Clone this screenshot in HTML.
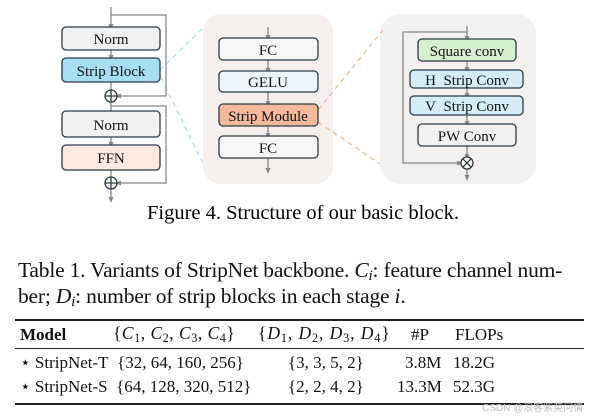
<!DOCTYPE html>
<html><head><meta charset="utf-8"><style>
body{margin:0;width:602px;height:418px;background:#fff;position:relative;overflow:hidden;font-family:"Liberation Serif",serif;color:#111}
.t{position:absolute;white-space:nowrap;line-height:1}
i{font-style:italic}
sub{font-size:70%;vertical-align:-3px;line-height:0}
</style></head><body>
<svg width="602" height="240" style="position:absolute;left:0;top:0" font-family="Liberation Serif, serif" font-size="15">
<defs><marker id="a" markerWidth="6" markerHeight="6" refX="3" refY="3" orient="auto" markerUnits="userSpaceOnUse"><path d="M0,0.5 L6,3 L0,5.5z" fill="#888"/></marker></defs>
<rect x="203" y="14" width="130" height="170" rx="18" fill="#f5efed"/>
<rect x="380" y="14" width="156" height="170" rx="20" fill="#f2f1f0"/>
<g stroke="#a9dcf0" stroke-width="1.3" stroke-dasharray="5,4" fill="none">
<line x1="160" y1="70" x2="203" y2="28"/><line x1="161" y1="78" x2="203" y2="163"/></g>
<g stroke="#f3b99a" stroke-width="1.3" stroke-dasharray="5,4" fill="none">
<line x1="318" y1="110" x2="383" y2="30"/><line x1="318" y1="122" x2="380" y2="164"/></g>
<g stroke="#888" stroke-width="1.3" fill="none">
<line x1="111" y1="7" x2="111" y2="27" marker-end="url(#a)"/>
<polyline points="111,15 166,15 166,96 118,96" marker-end="url(#a)"/>
<line x1="111" y1="50" x2="111" y2="58" marker-end="url(#a)"/>
<line x1="111" y1="82" x2="111" y2="90"/>
<line x1="111" y1="102" x2="111" y2="111"/>
<polyline points="111,106 166,106 166,183 118,183" marker-end="url(#a)"/>
<line x1="111" y1="137" x2="111" y2="145" marker-end="url(#a)"/>
<line x1="111" y1="170" x2="111" y2="177"/>
<line x1="111" y1="189" x2="111" y2="200" marker-end="url(#a)"/>
<line x1="268" y1="27" x2="268" y2="38" marker-end="url(#a)"/>
<line x1="268" y1="60" x2="268" y2="71" marker-end="url(#a)"/>
<line x1="268" y1="92" x2="268" y2="104" marker-end="url(#a)"/>
<line x1="268" y1="126" x2="268" y2="136" marker-end="url(#a)"/>
<line x1="268" y1="158" x2="268" y2="171" marker-end="url(#a)"/>
<line x1="467" y1="26" x2="467" y2="39" marker-end="url(#a)"/>
<polyline points="467,32 403,32 403,163 460,163" marker-end="url(#a)"/>
<line x1="467" y1="61" x2="467" y2="70" marker-end="url(#a)"/>
<line x1="467" y1="88" x2="467" y2="96" marker-end="url(#a)"/>
<line x1="467" y1="115" x2="467" y2="124" marker-end="url(#a)"/>
<line x1="467" y1="146" x2="467" y2="157" marker-end="url(#a)"/>
<line x1="467" y1="169" x2="467" y2="178" marker-end="url(#a)"/>
</g>
<g stroke="#2b3a44" stroke-width="1.3">
<rect x="62" y="27" width="98" height="23" rx="4" fill="#f1f1f1"/>
<rect x="62" y="58" width="98" height="24" rx="4" fill="#a8def3"/>
<rect x="62" y="111" width="98" height="26" rx="4" fill="#f1f1f1"/>
<rect x="62" y="145" width="98" height="25" rx="4" fill="#fbe9e0"/>
<rect x="219" y="38" width="99" height="22" rx="4" fill="#f7f7f7"/>
<rect x="219" y="71" width="99" height="21" rx="4" fill="#edf4fb"/>
<rect x="219" y="104" width="99" height="22" rx="4" fill="#f2b99a"/>
<rect x="219" y="136" width="99" height="22" rx="4" fill="#f7f7f7"/>
<rect x="418" y="39" width="98" height="22" rx="4" fill="#d6efcf"/>
<rect x="410" y="70" width="113" height="18" rx="4" fill="#d4edf6"/>
<rect x="410" y="96" width="113" height="19" rx="4" fill="#d4edf6"/>
<rect x="418" y="124" width="98" height="22" rx="4" fill="#f1f1f1"/>
<circle cx="111" cy="96" r="6" fill="#fff"/><path d="M105,96h12M111,90v12" fill="none"/>
<circle cx="111" cy="183" r="6" fill="#fff"/><path d="M105,183h12M111,177v12" fill="none"/>
<circle cx="467" cy="163" r="6" fill="#fff"/><path d="M462.8,158.8l8.4,8.4M471.2,158.8l-8.4,8.4" fill="none"/>
</g>
<g text-anchor="middle" fill="#111">
<text x="111" y="44">Norm</text><text x="111" y="76">Strip Block</text>
<text x="111" y="130">Norm</text><text x="111" y="163">FFN</text>
<text x="268" y="55">FC</text><text x="268" y="87">GELU</text>
<text x="268" y="121">Strip Module</text><text x="268" y="153">FC</text>
<text x="467" y="56">Square conv</text><text x="467" y="85">H&#160; Strip Conv</text>
<text x="467" y="111">V&#160; Strip Conv</text><text x="467" y="141">PW Conv</text>
</g>
<text x="303" y="219" text-anchor="middle" font-size="20.5">Figure 4. Structure of our basic block.</text>
</svg>
<div class="t" style="left:18px;top:260px;font-size:21.5px;letter-spacing:-0.2px">Table 1. Variants of StripNet backbone. <i>C<sub>i</sub></i>: feature channel num-</div>
<div class="t" style="left:18px;top:286px;font-size:21.5px;letter-spacing:-0.2px">ber; <i>D<sub>i</sub></i>: number of strip blocks in each stage <i>i</i>.</div>
<div style="position:absolute;left:15px;top:319px;width:569px;height:2px;background:#222"></div>
<div style="position:absolute;left:15px;top:348px;width:569px;height:1px;background:#222"></div>
<div style="position:absolute;left:15px;top:403px;width:569px;height:1.5px;background:#222"></div>
<div class="t" style="left:20px;top:326px;font-size:17px;font-weight:bold">Model</div>
<div class="t" style="left:113px;top:325px;font-size:17.5px;letter-spacing:0.5px">{<i>C</i><sub>1</sub>, <i>C</i><sub>2</sub>, <i>C</i><sub>3</sub>, <i>C</i><sub>4</sub>}</div>
<div class="t" style="left:258px;top:325px;font-size:17.5px;letter-spacing:0.9px">{<i>D</i><sub>1</sub>, <i>D</i><sub>2</sub>, <i>D</i><sub>3</sub>, <i>D</i><sub>4</sub>}</div>
<div class="t" style="left:411px;top:326px;font-size:17px">#P</div>
<div class="t" style="left:455px;top:326px;font-size:17px">FLOPs</div>
<div class="t" style="left:20px;top:354px;font-size:17px">⋆ StripNet-T&#160; {32, 64, 160, 256}</div>
<div class="t" style="left:288px;top:354px;font-size:17px">{3, 3, 5, 2}</div>
<div class="t" style="left:405px;top:354px;font-size:17px">3.8M</div>
<div class="t" style="left:453px;top:354px;font-size:17px">18.2G</div>
<div class="t" style="left:20px;top:378px;font-size:17px">⋆ StripNet-S&#160; {64, 128, 320, 512}</div>
<div class="t" style="left:288px;top:378px;font-size:17px">{2, 2, 4, 2}</div>
<div class="t" style="left:397px;top:378px;font-size:17px">13.3M</div>
<div class="t" style="left:453px;top:378px;font-size:17px">52.3G</div>
<div class="t" style="left:482px;top:404px;font-size:10px;color:#bbb;font-family:'Liberation Sans','Noto Sans CJK SC',sans-serif">CSDN @浪客紫英问情</div>
</body></html>
